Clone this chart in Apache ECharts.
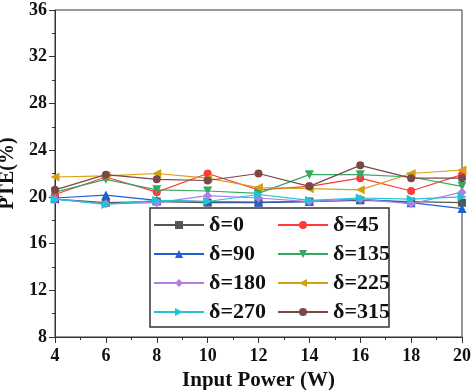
<!DOCTYPE html>
<html><head><meta charset="utf-8">
<script src="https://cdn.jsdelivr.net/npm/echarts@6/dist/echarts.min.js"></script>
<style>html,body{margin:0;padding:0;background:#fff}#c{width:474px;height:390px}</style>
</head><body><div id="c"></div>
<script>
const xValues = [4, 6, 8, 10, 12, 14, 16, 18, 20];
const d0   = [19.8, 19.5, 19.6, 19.5, 19.5, 19.6, 19.7, 19.6, 19.5];
const d45  = [20.2, 21.7, 20.4, 22.0, 20.6, 20.9, 21.6, 20.5, 21.9];
const d90  = [19.9, 20.15, 19.7, 19.6, 19.55, 19.6, 19.8, 19.5, 19.0];
const d135 = [20.4, 21.5, 20.6, 20.5, 20.3, 21.9, 21.9, 21.7, 20.9];
const d180 = [19.8, 19.4, 19.5, 20.1, 19.9, 19.6, 19.8, 19.4, 20.4];
const d225 = [21.7, 21.8, 22.0, 21.6, 20.8, 20.7, 20.6, 22.0, 22.3];
const d270 = [19.8, 19.35, 19.7, 19.6, 20.2, 19.7, 19.9, 19.8, 20.0];
const d315 = [20.6, 21.9, 21.5, 21.4, 22.0, 20.9, 22.7, 21.6, 21.6];
const seriesNames = ['δ=0','δ=45','δ=90','δ=135','δ=180','δ=225','δ=270','δ=315'];
const seriesData = [d0,d45,d90,d135,d180,d225,d270,d315];
const yTicks = [8, 12, 16, 20, 24, 28, 32, 36];

const colors = ['#555555','#ff3b3b','#1f5fd6','#35a862','#b07ee6','#d4a012','#1ec4d4','#7a4848'];
const symbols = ['rect','circle','triangle','triangle','diamond','triangle','triangle','circle'];
const rotates = [0,0,0,180,0,90,-90,0];
const sizes = [8,8,9,9,9,9,9,8];

const font = 'Liberation Serif';
const chart = echarts.init(document.getElementById('c'));
const series = seriesNames.map((n,i)=>({
  name:n, type:'line',
  data: xValues.map((x,j)=>[x, seriesData[i][j]]),
  symbol: symbols[i], symbolRotate: rotates[i], symbolSize: sizes[i],
  showAllSymbol:true,
  lineStyle:{color:colors[i], width:1.2},
  itemStyle:{color:colors[i]},
  z: 2+i
}));
const legendBase = {
  orient:'vertical', itemWidth:50, itemHeight:10, itemGap:7, z:20,
  textStyle:{fontFamily:font, fontWeight:'bold', fontSize:22, color:'#111'},
  padding:0
};
chart.setOption({
  animation:false,
  grid:{left:55, right:12, top:10, bottom:53, show:true, borderColor:'#333', borderWidth:1, outerBoundsMode:'none', containLabel:false},
  xAxis:{type:'value', min:4, max:20, interval:2,
    axisLine:{lineStyle:{color:'#333', width:1}},
    axisTick:{show:true, length:6, lineStyle:{color:'#333'}},
    minorTick:{show:true, splitNumber:2, length:3, lineStyle:{color:'#333'}},
    splitLine:{show:false},
    axisLabel:{fontFamily:font, fontWeight:'bold', fontSize:18, color:'#111', margin:10},
    name:'Input Power (W)', nameLocation:'middle', nameGap:32,
    nameTextStyle:{fontFamily:font, fontWeight:'bold', fontSize:21, color:'#111'}
  },
  yAxis:{type:'value', min:8, max:36, interval:4,
    axisLine:{show:true, lineStyle:{color:'#333', width:1}},
    axisTick:{show:true, length:6, lineStyle:{color:'#333'}},
    minorTick:{show:true, splitNumber:2, length:3, lineStyle:{color:'#333'}},
    splitLine:{show:false},
    axisLabel:{fontFamily:font, fontWeight:'bold', fontSize:18, color:'#111', margin:8,
      formatter:v=>yTicks.includes(v)?String(v):''},
    name:'PTE(%)', nameLocation:'middle', nameGap:31, nameRotate:90,
    nameTextStyle:{fontFamily:font, fontWeight:'bold', fontSize:20, color:'#111'}
  },
  legend:[
    Object.assign({}, legendBase, {left:153, top:214, data:['δ=0','δ=90','δ=180','δ=270']}),
    Object.assign({}, legendBase, {left:277, top:214, data:['δ=45','δ=135','δ=225','δ=315']})
  ],
  graphic:[{type:'rect', shape:{x:150, y:208, width:239, height:119},
    style:{fill:'#fff', stroke:'#333', lineWidth:1.5}, z:10}],
  series: series
});
</script></body></html>
